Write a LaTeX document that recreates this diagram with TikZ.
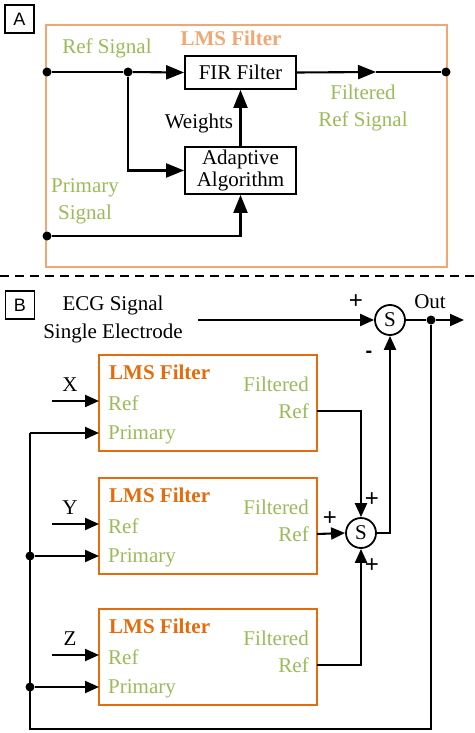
\documentclass[tikz,border=0pt]{standalone}
\usepackage{fontspec}
\setmainfont{Liberation Serif}
\newfontfamily\lsans{Liberation Sans}
\usetikzlibrary{arrows.meta}
\definecolor{orA}{HTML}{F2A773}
\definecolor{orB}{HTML}{E46C0A}
\definecolor{grn}{HTML}{9BBB59}
\begin{document}
\begin{tikzpicture}[x=1pt,y=-1pt,
 every node/.style={font=\fontsize{21}{23}\selectfont, inner sep=0pt},
 blk/.style={draw, line width=1.8pt, fill=white, align=center},
 lmsbox/.style={draw=orB, line width=2pt, minimum width=218pt, minimum height=96pt},
 wire/.style={line width=2.1pt},
 arrA/.style={wire,-{Triangle[length=18pt,width=14pt]}},
 arrB/.style={wire,-{Triangle[length=14pt,width=12pt]}},
 dotn/.style={circle, fill, minimum size=9pt},
 gtxt/.style={text=grn},
 lms/.style={text=orB, font=\bfseries\fontsize{21}{23}\selectfont},
 sumn/.style={draw, circle, line width=1.8pt, minimum size=30pt, fill=white},
 pm/.style={font=\lsans\fontsize{24}{26}\selectfont},
 tag/.style={draw, line width=1.1pt, minimum width=29pt, minimum height=28pt, font=\lsans\fontsize{18}{20}\selectfont}]
\useasboundingbox (0,0) rectangle (474,733);
\fill[white] (0,0) rectangle (474,733);

% ---------- Panel A ----------
\node[tag] (tA) at (19.5,19) {A};
\node[draw=orA, line width=2pt, minimum width=401pt, minimum height=242pt] (frameA) at (246,146) {};
\node[text=orA, font=\bfseries\fontsize{21}{23}\selectfont] (lmsA) at (231,38) {LMS Filter};
\node[gtxt] (refsig) at (107,48) {Ref Signal};
\node[blk, minimum width=111pt, minimum height=33pt] (fir) at (240.5,72.5) {FIR Filter};
\node[blk, minimum width=111pt, minimum height=47pt, font=\fontsize{21}{22}\selectfont] (adapt) at (240.5,170.5) {Adaptive\\Algorithm};
\node (weights) at (199,123) {Weights};
\node[gtxt, align=center, font=\fontsize{21}{27}\selectfont] (filtA) at (363,108) {Filtered\\Ref Signal};
\node[gtxt, align=center, font=\fontsize{21}{27}\selectfont] (primA) at (85,201) {Primary\\Signal};
\node[dotn] (dA1) at (47,72) {};
\node[dotn] (dA2) at (128,72) {};
\node[dotn] (dA3) at (446,72) {};
\node[dotn] (dA4) at (47,236) {};
\coordinate (mA) at (376,72);
\draw[wire] (dA1) -- (dA2);
\draw[arrA] (dA2) -- (fir.west);
\draw[arrA] (dA2) |- (adapt.west);
\draw[arrA] (fir.east) -- (mA);
\draw[wire] (mA) -- (dA3);
\draw[arrA] (adapt.north) -- (fir.south);
\draw[arrA] (dA4) -| (adapt.south);

% separator
\coordinate (sepL) at (0,276);
\coordinate (sepR) at (474,276);
\draw[line width=1.4pt, dash pattern=on 9pt off 6pt] (sepL) -- (sepR);

% ---------- Panel B ----------
\node[tag] (tB) at (20,305) {B};
\node[align=center, font=\fontsize{21}{28}\selectfont] (ecg) at (113,319) {ECG Signal\\Single Electrode};
\coordinate (ecgS) at (198,320);
\node[sumn] (s1) at (390,320) {S};
\node[pm] (p1) at (356,302) {+};
\node[pm, font=\lsans\bfseries\fontsize{20}{22}\selectfont] (m1) at (369,354) {-};
\node (out) at (430,302) {Out};
\node[dotn] (dOut) at (431,320) {};
\coordinate (outE) at (464,320);
\draw[arrB] (ecgS) -- (s1.west);
\draw[wire] (s1.east) -- (dOut);
\draw[arrB] (dOut) -- (outE);

\node[sumn] (s2) at (361,533) {S};
\node[pm] (p2) at (372,500) {+};
\node[pm] (p3) at (330,519) {+};
\node[pm] (p4) at (372,566) {+};

% LMS boxes
\foreach \n/\yc/\lab in {1/403/X, 2/526/Y, 3/657/Z} {
  \node[lmsbox] (box\n) at (208,\yc) {};
  \node[lms, anchor=west] (lms\n) at (109,\yc-31) {LMS Filter};
  \node[gtxt, anchor=west] (ref\n) at (108,\yc) {Ref};
  \node[gtxt, anchor=west] (prim\n) at (108,\yc+32) {Primary};
  \node[gtxt, anchor=east] (filt\n) at (309,\yc-19) {Filtered};
  \node[gtxt, anchor=east] (fref\n) at (309,\yc+8) {Ref};
  \node (in\n) at (70,\yc-18) {\lab};
  \coordinate (inS\n) at (52,\yc-2);
  \coordinate (inE\n) at (99,\yc-2);
  \coordinate (pE\n) at (99,\yc+30);
  \coordinate (oS\n) at (317,\yc+8);
  \draw[arrB] (inS\n) -- (inE\n);
}
\node[dotn] (dP2) at (30,556) {};
\node[dotn] (dP3) at (30,687) {};
\coordinate (cBL) at (30,729);
\coordinate (cBR) at (431,729);
\coordinate (cTL) at (30,433);
\draw[wire] (dOut) -- (cBR) -- (cBL) -- (cTL);
\draw[arrB] (cTL) -- (pE1);
\draw[arrB] (dP2) -- (pE2);
\draw[arrB] (dP3) -- (pE3);
\draw[arrB] (oS1) -| (s2.north);
\draw[arrB] (oS2) -- (s2.west);
\draw[arrB] (oS3) -| (s2.south);
\coordinate (s2r) at (390,533);
\draw[arrB] (s2.east) -- (s2r) -- (s1.south);

\end{tikzpicture}
\end{document}
